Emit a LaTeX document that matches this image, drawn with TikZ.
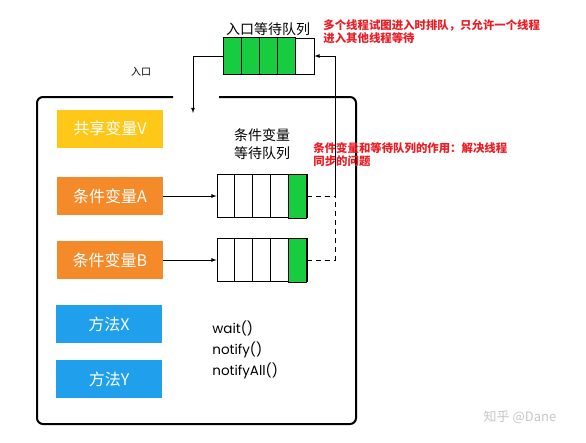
\documentclass[tikz,border=0pt]{standalone}
\usepackage{fontspec}
\setmainfont{Noto Sans CJK SC}
\newfontfamily\codefont{Poppins}
\usepackage{tikz}
\usetikzlibrary{arrows, positioning, calc}
\definecolor{varyellow}{RGB}{255,200,25}
\definecolor{varorange}{RGB}{245,138,42}
\definecolor{methodblue}{RGB}{32,160,236}
\definecolor{queuegreen}{RGB}{24,204,64}
\definecolor{notered}{RGB}{236,28,36}

\begin{document}
\begin{tikzpicture}[x=1pt, y=-1pt, line width=0.8pt,
    varbox/.style={rectangle, minimum width=106pt, minimum height=38pt, inner sep=0pt, text=white, font=\fontsize{16}{18}\selectfont},
    qbox/.style={rectangle, draw, fill=white, minimum width=90pt, inner sep=0pt},
    note/.style={text=notered, font=\bfseries\fontsize{11.4}{13}\selectfont, align=left, anchor=north west, inner sep=0pt}]
    \useasboundingbox (0,0) rectangle (586,442);

    % Monitor box (open at the entry)
    \draw[line width=2pt, rounded corners=6pt] (173,97) -- (37,97) -- (37,424) -- (356,424) -- (356,97) -- (219,97);

    % Entry queue
    \node (qin) [qbox, minimum height=36pt] at (269,56) {};
    \node (qinlbl) at (268,29) {\fontsize{14}{16}\selectfont 入口等待队列};
    \node (entrylbl) at (141,72) {\fontsize{10}{12}\selectfont 入口};
    \node (qinnote) [note] at (323,19) {多个线程试图进入时排队，只允许一个线程\\进入其他线程等待};

    % Shared variable and condition variables
    \node (vv) [varbox, fill=varyellow] at (110,128.5) {共享变量V};
    \node (va) [varbox, fill=varorange] at (110,196) {条件变量A};
    \node (vb) [varbox, fill=varorange] at (110,260) {条件变量B};

    % Condition variable wait queues
    \node (qa) [qbox, minimum height=43pt] at (262,196) {};
    \node (qb) [qbox, minimum height=43pt] at (262,260) {};
    \node (qlbl) [align=center, font=\fontsize{14}{18}\selectfont] at (262,144) {条件变量\\等待队列};
    \node (qnote) [note] at (313,142) {条件变量和等待队列的作用：解决线程\\同步的问题};

    \foreach \q/\cells in {qin/{0,1,2,3}, qa/4, qb/4} {
        \foreach \i in \cells
            \filldraw[fill=queuegreen] ($(\q.north west)+(18*\i,0)$) rectangle ($(\q.south west)+(18*\i+18,0)$);
        \foreach \i in {1,...,4}
            \draw ($(\q.north west)+(18*\i,0)$) -- ($(\q.south west)+(18*\i,0)$);
    }

    % Methods
    \node (mx) [varbox, fill=methodblue] at (109,324) {方法X};
    \node (my) [varbox, fill=methodblue] at (109,379) {方法Y};
    \node (calls) [anchor=north west, align=left, inner sep=0pt, font=\codefont\fontsize{13.5}{21}\selectfont] at (212,320) {wait()\\notify()\\notifyAll()};

    % Connectors
    \coordinate (entry) at (193,113);
    \coordinate (back) at (335,196);
    \draw[-latex] (qin.west) -| (entry);
    \draw[-latex] (va) -- (qa);
    \draw[-latex] (vb) -- (qb);
    \draw[dash pattern=on 5pt off 4pt] (qa.east) -- (back);
    \draw[dash pattern=on 5pt off 4pt] (qb.east) -| (back);
    \draw[-latex] (back) |- (qin.east);

    % Watermark
    \node (mark) [text=gray!45, font=\fontsize{13}{15}\selectfont] at (520,417) {知乎 @Dane};
\end{tikzpicture}
\end{document}
